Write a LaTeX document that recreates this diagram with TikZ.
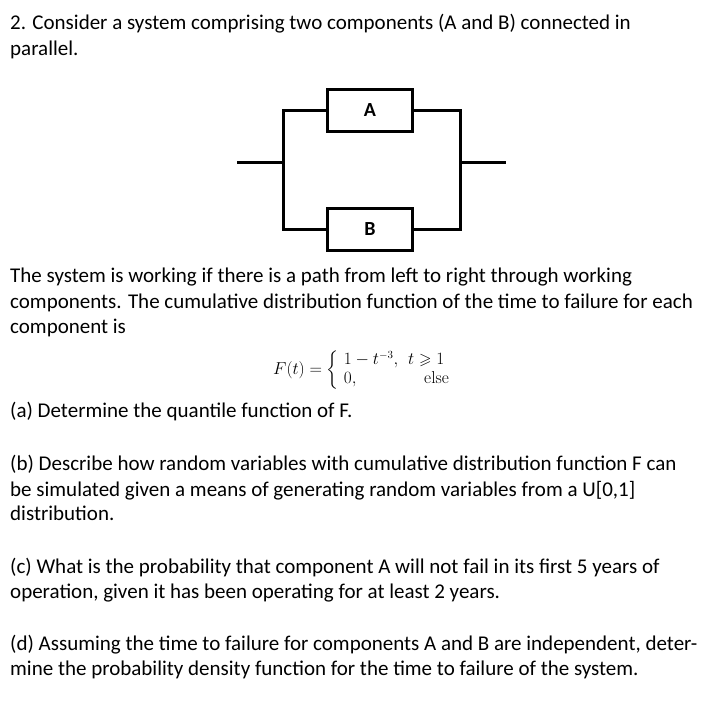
\documentclass[tikz,border=0pt]{standalone}
\usepackage{amssymb}
\usepackage[no-math]{fontspec}
\setmainfont{Carlito}
\begin{document}
\begin{tikzpicture}[x=1pt,y=-1pt,
  txt/.style={anchor=base west,inner sep=0pt,font=\fontsize{21}{25}\selectfont},
  wire/.style={line width=3pt},
  comp/.style={draw,line width=3pt,minimum width=85pt,minimum height=42pt,inner sep=0pt,font=\fontsize{20}{24}\selectfont\bfseries}]
\useasboundingbox[fill=white] (0,0) rectangle (707,707);
\node[txt] (l1) at (10,29) {2. Consider a system comprising two components (A and B) connected in};
\node[txt] (l2) at (10,55) {parallel.};
\node[comp] (A) at (370,110) {A};
\node[comp] (B) at (370,229.5) {B};
\coordinate (lt) at (283,110);
\coordinate (lb) at (283,229.5);
\coordinate (rt) at (460,110);
\coordinate (rb) at (460,229.5);
\coordinate (lm) at (283,162.5);
\coordinate (rm) at (460,162.5);
\coordinate (lin) at (237,162.5);
\coordinate (rout) at (506,162.5);
\draw[wire] (A.west) -- (lt) -- (lb) -- (B.west);
\draw[wire] (A.east) -- (rt) -- (rb) -- (B.east);
\draw[wire] (lin) -- (lm);
\draw[wire] (rm) -- (rout);
\node[txt] (t1) at (10,282) {The system is working if there is a path from left to right through working};
\node[txt] (t2) at (10,308) {components. The cumulative distribution function of the time to failure for each};
\node[txt] (t3) at (10,333) {component is};
\node[anchor=west,inner sep=0pt,font=\fontsize{16}{19}\selectfont] (f) at (273,370)
  {$F(t)=\left\{\begin{array}{ll}1-t^{-3}, & t\geqslant 1\\ 0, & \quad\mathrm{else}\end{array}\right.$};
\node[txt] (a1) at (10,417) {(a) Determine the quantile function of F.};
\node[txt] (b1) at (10,470) {(b) Describe how random variables with cumulative distribution function F can};
\node[txt] (b2) at (10,496) {be simulated given a means of generating random variables from a U[0,1]};
\node[txt] (b3) at (10,520) {distribution.};
\node[txt] (c1) at (10,573) {(c) What is the probability that component A will not fail in its first 5 years of};
\node[txt] (c2) at (10,598) {operation, given it has been operating for at least 2 years.};
\node[txt] (d1) at (10,650) {(d) Assuming the time to failure for components A and B are independent, deter-};
\node[txt] (d2) at (10,675) {mine the probability density function for the time to failure of the system.};
\end{tikzpicture}
\end{document}
